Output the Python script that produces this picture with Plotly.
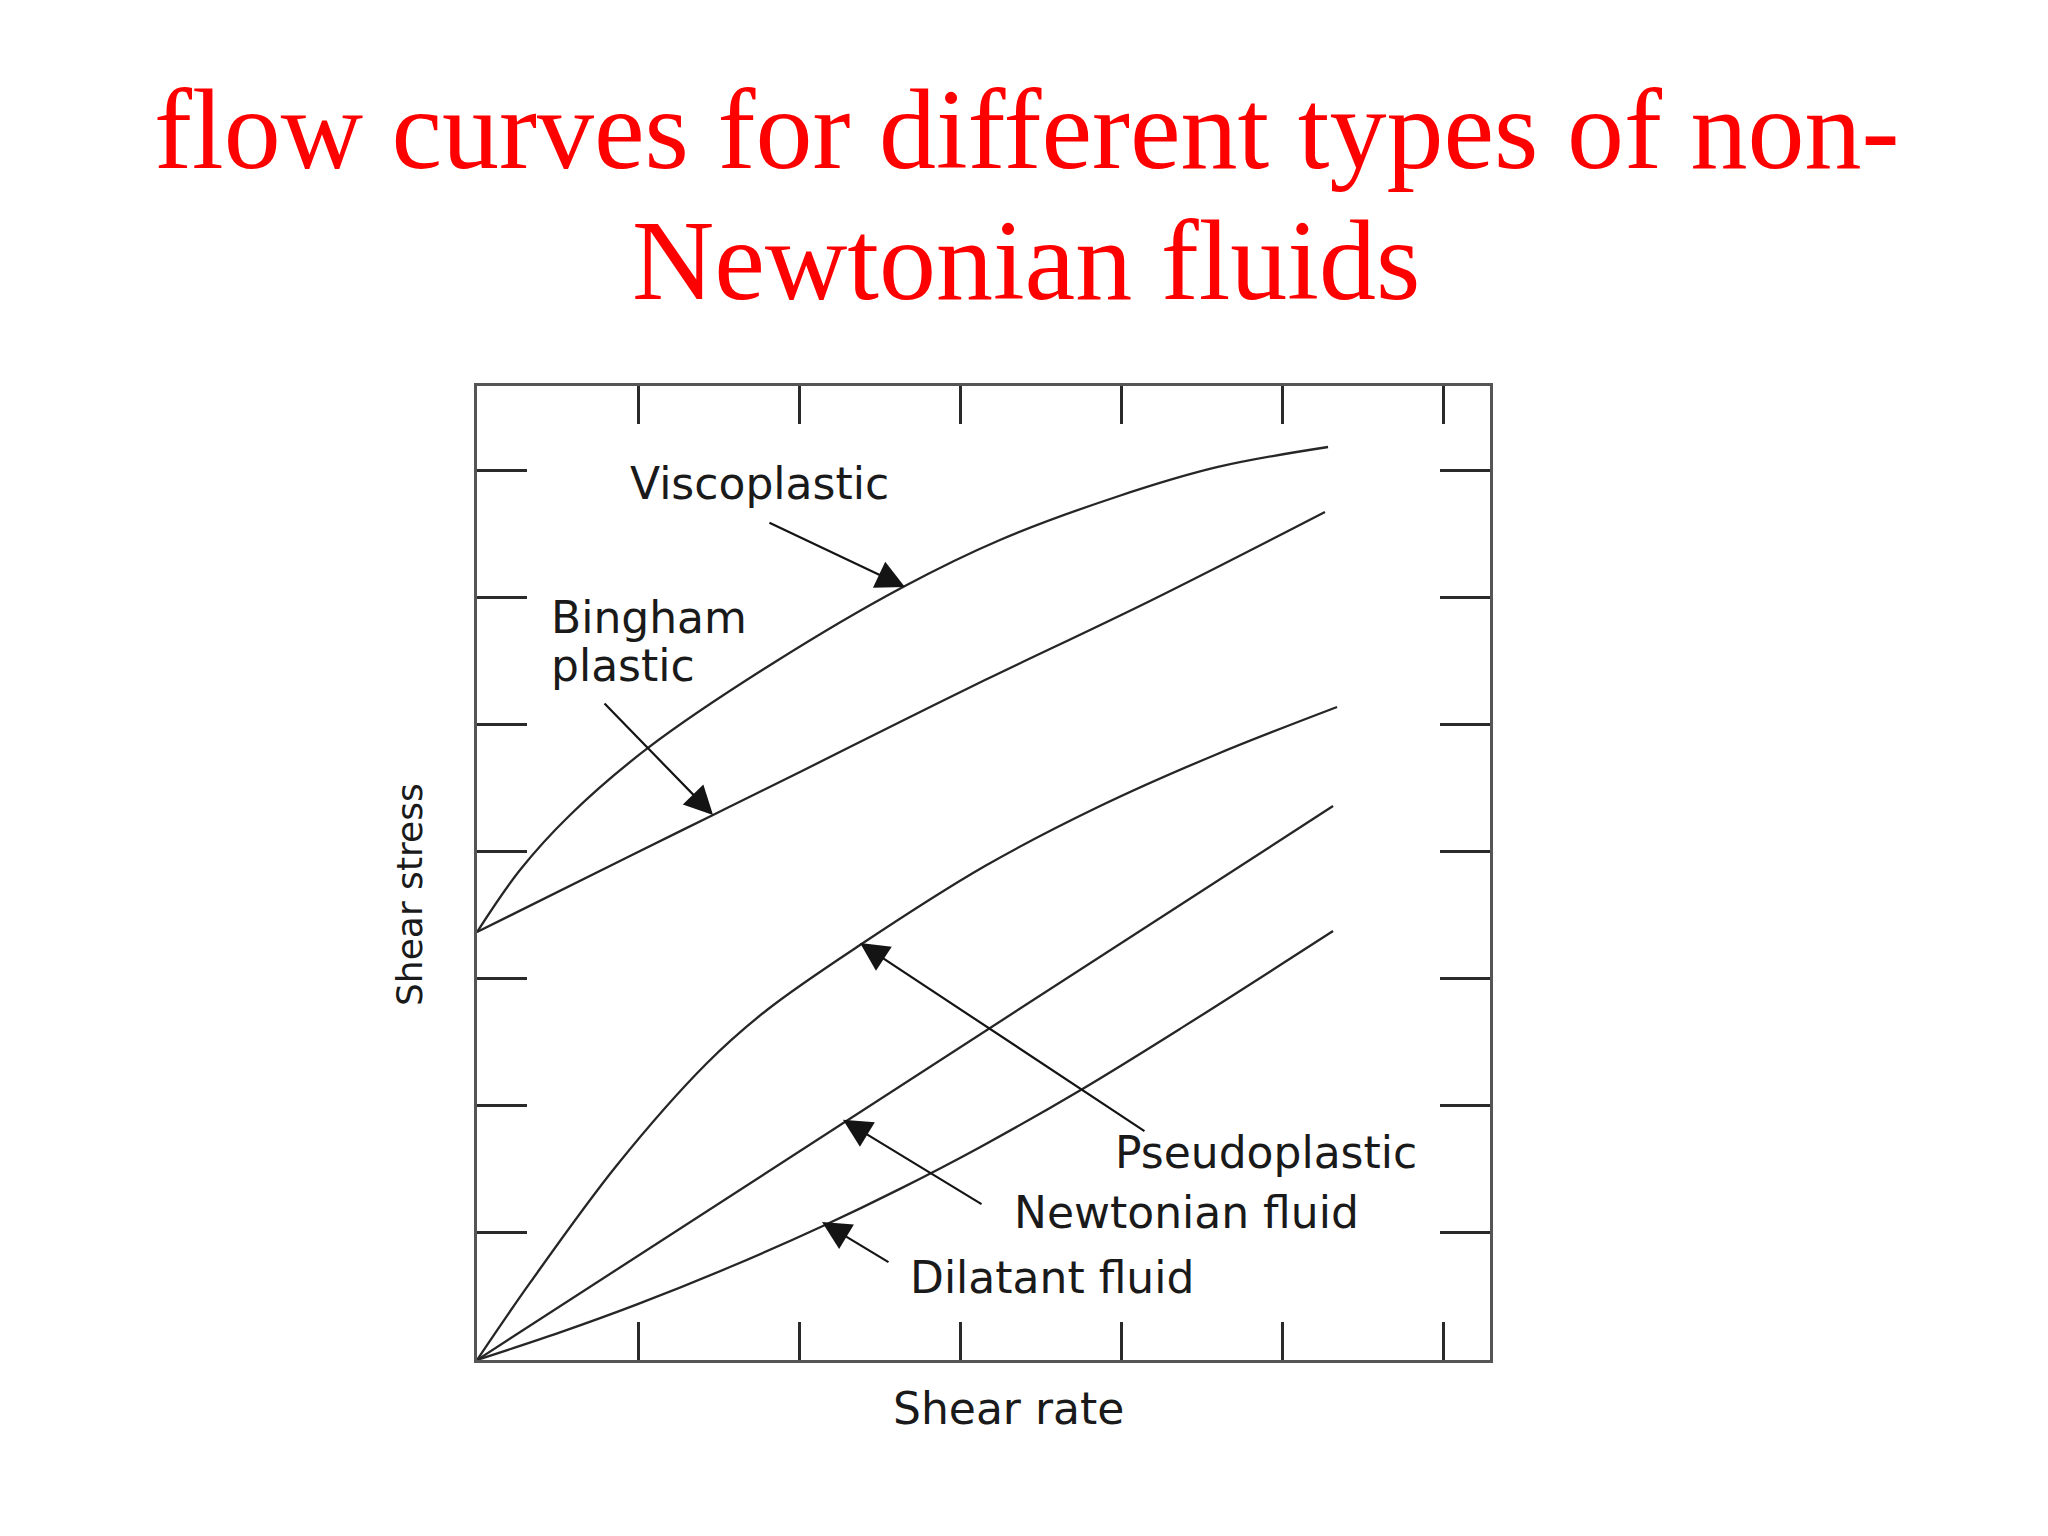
import plotly.graph_objects as go

# flow curves (x = shear rate, y = shear stress, tick units)
visco_x = [0, 0.267, 0.578, 1.062, 1.851, 2.646, 3.248, 3.969, 4.602, 5.286]
visco_y = [3.366, 3.854, 4.287, 4.814, 5.490, 6.080, 6.450, 6.788, 7.024, 7.181]

bingham_x = [0, 0.950, 1.466, 2.006, 2.627, 3.155, 4.180, 5.267]
bingham_y = [3.366, 3.964, 4.287, 4.625, 5.018, 5.348, 5.970, 6.670]

pseudo_x = [0, 0.329, 0.870, 1.429, 1.801, 2.379, 3.155, 3.870, 4.584, 5.342]
pseudo_y = [0, 0.606, 1.534, 2.336, 2.753, 3.264, 3.885, 4.357, 4.759, 5.136]

newton_x = [0, 5.317]
newton_y = [0, 4.357]

dilat_x = [0, 0.516, 0.994, 1.571, 2.155, 2.627, 3.124, 3.758, 4.391, 5.317]
dilat_y = [0, 0.217, 0.437, 0.731, 1.058, 1.346, 1.674, 2.130, 2.624, 3.374]

x_ticks = [1, 2, 3, 4, 5, 6]
y_ticks = [1, 2, 3, 4, 5, 6, 7]

# arrows: (head x, head y, tail x, tail y)
arrows = [
    (2.658, 6.080, 1.807, 6.591),   # Viscoplastic
    (1.466, 4.287, 0.783, 5.175),   # Bingham plastic
    (2.379, 3.280, 4.155, 1.793),   # Pseudoplastic
    (2.273, 1.890, 3.143, 1.219),   # Newtonian fluid
    (2.143, 1.085, 2.565, 0.763),   # Dilatant fluid
]

title_lines = ["flow curves for different types of non-", "Newtonian fluids"]
x_title = "Shear rate"
y_title = "Shear stress"

# plot box in page pixels (the page body adds an 8px margin, taken off below)
L, R, T, B = 477, 1490, 386, 1360
BODY = 8


def px(x):
    return (x - L) / (R - L)


def py(y):
    return (B - y) / (B - T)


CURVE = "#262626"
TEXT = "#1a1a1a"

fig = go.Figure()
for xs, ys in [(visco_x, visco_y), (bingham_x, bingham_y), (pseudo_x, pseudo_y),
               (newton_x, newton_y), (dilat_x, dilat_y)]:
    fig.add_trace(go.Scatter(x=xs, y=ys, mode="lines",
                             line=dict(color=CURVE, width=2.3, shape="spline", smoothing=1.0),
                             hoverinfo="skip", showlegend=False))

annotations = []
for hx, hy, tx, ty in arrows:
    annotations.append(dict(x=hx, y=hy, ax=tx, ay=ty, xref="x", yref="y", axref="x", ayref="y",
                            text="", showarrow=True, arrowhead=2, arrowsize=2.6, arrowwidth=2.2,
                            arrowcolor="#141414", standoff=0))

label_font = dict(family="DejaVu Sans, Arial, sans-serif", size=44, color=TEXT)
labels = [
    ("Viscoplastic", 628, 483),
    ("Bingham", 549, 617),
    ("plastic", 549, 665),
    ("Pseudoplastic", 1113, 1152),
    ("Newtonian fluid", 1012, 1212),
    ("Dilatant fluid", 908, 1277),
]
for txt, lx, ly in labels:
    annotations.append(dict(text=txt, x=px(lx), y=py(ly), xref="paper", yref="paper",
                            xanchor="left", yanchor="middle", showarrow=False, font=label_font))

annotations.append(dict(text=x_title, x=px(1008), y=py(1408), xref="paper", yref="paper",
                        xanchor="center", yanchor="middle", showarrow=False, font=label_font))
annotations.append(dict(text=y_title, x=px(409), y=py(895), xref="paper", yref="paper", textangle=-90,
                        xanchor="center", yanchor="middle", showarrow=False,
                        font=dict(family="DejaVu Sans, Arial, sans-serif", size=36, color=TEXT)))

title_font = dict(family="Liberation Serif, Times New Roman, serif", size=114, color="#ff0000")
for line, cy in zip(title_lines, [129, 260]):
    annotations.append(dict(text=line, x=px(1026), y=py(cy), xref="paper", yref="paper",
                            xanchor="center", yanchor="middle", showarrow=False, font=title_font))

axis_common = dict(showgrid=False, zeroline=False, showline=True, linecolor="#555555", linewidth=3,
                   mirror="ticks", ticks="inside", tickcolor="#2a2a2a", tickwidth=2.6,
                   showticklabels=False, fixedrange=True)

fig.update_layout(
    width=2048, height=1536,
    margin=dict(l=L - BODY, r=2048 - R + BODY, t=T - BODY, b=1536 - B + BODY),
    paper_bgcolor="white", plot_bgcolor="white",
    xaxis=dict(range=[0, (R - L) / 161], tickvals=x_ticks, ticklen=38, **axis_common),
    yaxis=dict(range=[0, (B - T) / 127.14], tickvals=y_ticks, ticklen=50, **axis_common),
    annotations=annotations,
    showlegend=False,
)

fig.write_html("out.html")
